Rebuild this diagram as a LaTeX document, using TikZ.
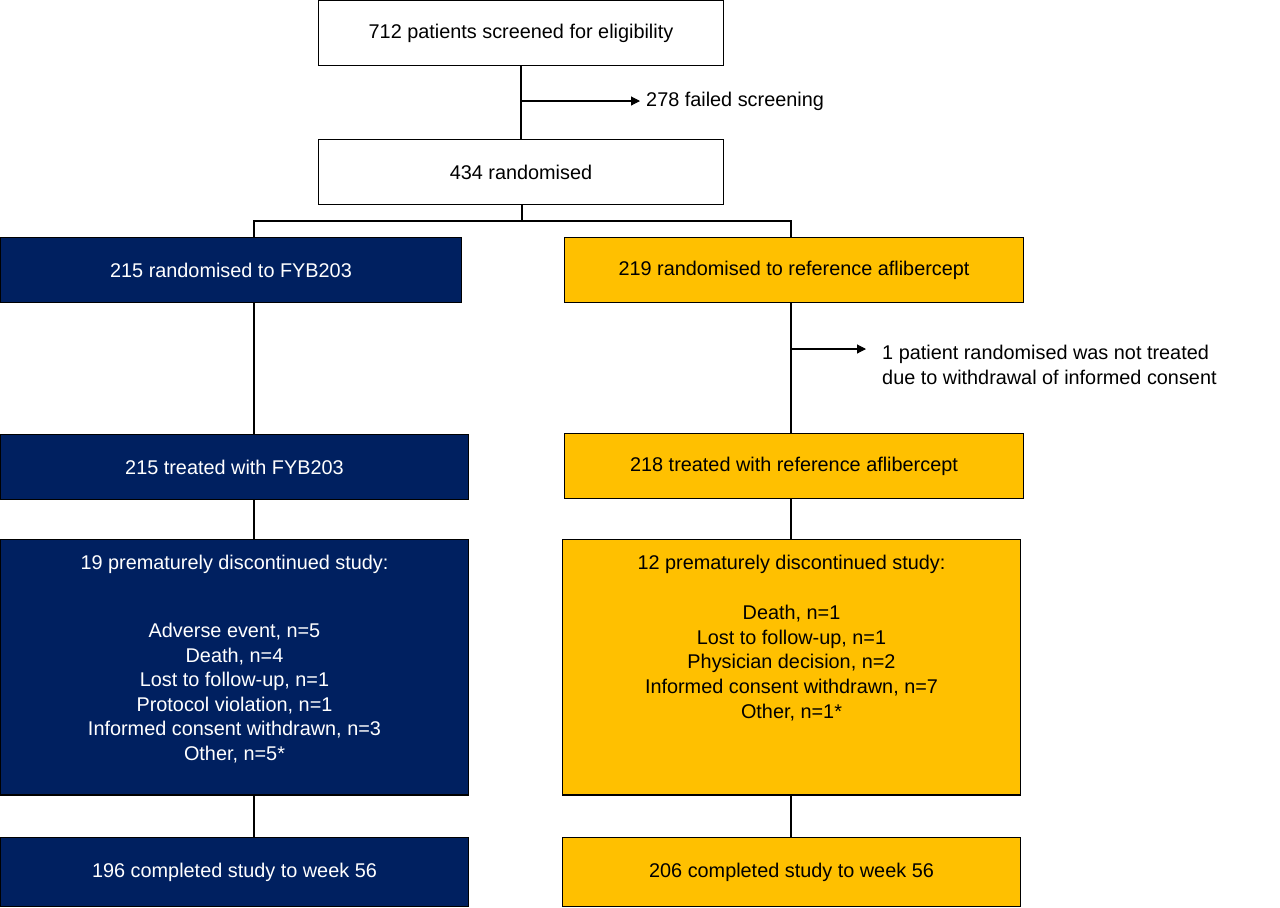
\documentclass[tikz,border=0pt]{standalone}
\usepackage{fontspec}
\setmainfont{Liberation Sans}
\usetikzlibrary{arrows.meta}
\definecolor{navy}{HTML}{002060}
\definecolor{gold}{HTML}{FFC000}
\begin{document}
\begin{tikzpicture}[x=0.02cm,y=-0.02cm,
    font=\fontsize{11.3}{14}\selectfont,
    box/.style={draw=black,line width=0.6pt,inner sep=0pt,align=center},
    white/.style={box,fill=white,minimum width=8.1cm,minimum height=1.3cm},
    left/.style={box,fill=navy,text=white},
    right/.style={box,fill=gold,text=black},
    line/.style={line width=0.6pt},
    arr/.style={line width=0.6pt,-{Triangle[length=5pt,width=5pt]}}]
	\useasboundingbox (0,0) rectangle (1280,907);
	
	\node[white] (screen) at (521,33) {712 patients screened for eligibility};
	\node[white] (rand) at (521,172) {434 randomised};
	\coordinate (fail) at (522,101);
	\node[anchor=west] (failed) at (640,101) {278 failed screening};
	\draw[line] (screen) -- (rand);
	\draw[arr] (fail) -- (failed.west);
	
	\node[left,minimum width=9.22cm,minimum height=1.3cm] (fyb) at (231,270) {215 randomised to FYB203};
	\node[right,minimum width=9.18cm,minimum height=1.3cm] (ref) at (794,270) {219 randomised to reference aflibercept};
	\coordinate (split) at (522,221);
	\draw[line] (rand.south -| split) -- (split) -- (254,221) -- (254,238);
	\draw[line] (split) -- (791,221) -- (791,238);
	
	\node[left,minimum width=9.38cm,minimum height=1.3cm] (trl) at (234.5,467) {215 treated with FYB203};
	\node[right,minimum width=9.18cm,minimum height=1.3cm] (trr) at (794,466) {218 treated with reference aflibercept};
	\draw[line] (254,303) -- (254,435);
	\draw[line] (791,303) -- (791,434);
	\node[anchor=west,align=left] (notr) at (876,365) {1 patient randomised was not treated\\due to withdrawal of informed consent};
	\coordinate (nt) at (791,349);
	\draw[arr] (nt) -- (866,349);
	
	\node[left,minimum width=9.38cm,minimum height=5.12cm] (dcl) at (234.5,667) {};
	\node[below,text=white] at (234.5,549) {19 prematurely discontinued study:};
	\node[text=white,align=center] at (234.5,693) {Adverse event, n=5\\Death, n=4\\Lost to follow-up, n=1\\Protocol violation, n=1\\Informed consent withdrawn, n=3\\Other, n=5*};
	\node[right,minimum width=9.18cm,minimum height=5.12cm] (dcr) at (791.5,667) {};
	\node[below] at (791.5,549) {12 prematurely discontinued study:};
	\node[align=center] at (791.5,663) {Death, n=1\\Lost to follow-up, n=1\\Physician decision, n=2\\Informed consent withdrawn, n=7\\Other, n=1*};
	\draw[line] (254,500) -- (254,539);
	\draw[line] (791,499) -- (791,539);
	
	\node[left,minimum width=9.38cm,minimum height=1.38cm] (cpl) at (234.5,872) {196 completed study to week 56};
	\node[right,minimum width=9.18cm,minimum height=1.38cm] (cpr) at (791.5,872) {206 completed study to week 56};
	\draw[line] (254,795) -- (254,838);
	\draw[line] (791,795) -- (791,838);
\end{tikzpicture}
\end{document}
